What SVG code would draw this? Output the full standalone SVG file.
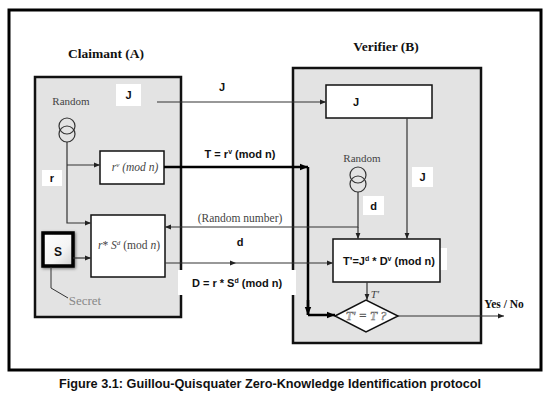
<svg xmlns="http://www.w3.org/2000/svg" width="548" height="400" viewBox="0 0 548 400">
<defs>
<style>
.title{font-family:"Liberation Serif",serif;font-weight:bold;font-size:13.5px;fill:#111;text-anchor:middle}
.serif{font-family:"Liberation Serif",serif;font-size:11px;fill:#444;text-anchor:middle}
.it{font-family:"Liberation Serif",serif;font-style:italic;font-size:11.5px;fill:#444;text-anchor:middle}
.sans{font-family:"Liberation Sans",Arial,sans-serif;font-weight:bold;font-size:11px;fill:#111;text-anchor:middle}
.lbl{fill:#fff;stroke:none}
.box{fill:#fff;stroke:#111;stroke-width:1.5}
.area{fill:#e3e3e3;stroke:#111;stroke-width:2.5}
.ln{fill:none;stroke:#333;stroke-width:1.2}
.thick{fill:none;stroke:#000;stroke-width:2.5}
</style>
<marker id="ah" viewBox="0 0 10 10" refX="10" refY="5" markerWidth="8" markerHeight="6" orient="auto" markerUnits="userSpaceOnUse"><path d="M0,1 L10,5 L0,9 z" fill="#222"/></marker>
<marker id="ahT" viewBox="0 0 10 10" refX="10" refY="5" markerWidth="9" markerHeight="8" orient="auto" markerUnits="userSpaceOnUse"><path d="M0,1 L10,5 L0,9 z" fill="#000"/></marker>
<linearGradient id="sg" x1="0" y1="0" x2="1" y2="1"><stop offset="0" stop-color="#fff"/><stop offset="0.6" stop-color="#f4f4f4"/><stop offset="1" stop-color="#cfcfcf"/></linearGradient>
<filter id="sh" x="-30%" y="-30%" width="160%" height="160%"><feGaussianBlur in="SourceAlpha" stdDeviation="1.5"/><feOffset dx="1" dy="1"/><feComponentTransfer><feFuncA type="linear" slope="0.5"/></feComponentTransfer><feMerge><feMergeNode/><feMergeNode in="SourceGraphic"/></feMerge></filter>
</defs>
<rect x="0" y="0" width="548" height="400" fill="#fff"/>
<g id="frame"><rect x="9" y="10" width="532" height="360" fill="none" stroke="#000" stroke-width="3"/></g>

<g id="claimant">
<rect class="area" x="35" y="77" width="146" height="240"/>
<text class="title" x="106" y="58">Claimant (A)</text>
</g>
<g id="verifier">
<rect class="area" x="293" y="68" width="188" height="275"/>
<text class="title" x="386" y="51">Verifier (B)</text>
</g>

<g id="random-a">
<text class="serif" x="71" y="105">Random</text>
<circle cx="67" cy="126" r="8" fill="none" stroke="#333" stroke-width="1.2"/>
<circle cx="67" cy="134" r="8" fill="none" stroke="#333" stroke-width="1.2"/>
</g>
<g id="j-a"><rect class="lbl" x="116" y="84" width="25" height="22"/><text class="sans" x="128.5" y="99">J</text></g>
<g id="r-label"><rect class="lbl" x="42" y="170" width="20" height="16"/><text class="sans" x="52" y="182">r</text></g>
<g id="rv-box"><rect class="box" x="100" y="151" width="64" height="33"/><text class="it" x="135" y="171">r<tspan dy="-4" font-size="7">v</tspan><tspan dy="4">  (mod n)</tspan></text></g>
<g id="rs-box"><rect class="box" x="91" y="215" width="74" height="62"/><text class="serif" x="129" y="249" style="font-size:11.5px"><tspan font-style="italic">r</tspan>* <tspan font-style="italic">S</tspan><tspan dy="-4" font-size="7" font-style="italic">d</tspan><tspan dy="4"> (mod </tspan><tspan font-style="italic">n</tspan>)</text></g>
<g id="secret">
<rect x="43" y="233" width="30" height="33" fill="url(#sg)" stroke="#000" stroke-width="3.5" filter="url(#sh)"/>
<text class="sans" x="58" y="256" style="font-size:12px">S</text>
<text class="serif" x="85" y="305" style="font-size:13px;fill:#888">Secret</text>
</g>

<g id="j-box"><rect class="box" x="326" y="85" width="106" height="33"/><text class="sans" x="356" y="106">J</text></g>
<g id="random-b">
<text class="serif" x="362" y="162">Random</text>
<circle cx="358" cy="175" r="8" fill="none" stroke="#333" stroke-width="1.2"/>
<circle cx="358" cy="184" r="8" fill="none" stroke="#333" stroke-width="1.2"/>
</g>
<g id="d-b"><rect class="lbl" x="363" y="196" width="21" height="19"/><text class="sans" x="373.5" y="210">d</text></g>
<g id="j-b"><rect class="lbl" x="412" y="167" width="21" height="20"/><text class="sans" x="422.5" y="181">J</text></g>
<g id="tp-box"><rect class="lbl" x="438" y="248" width="9" height="22"/><rect class="box" x="333" y="239" width="107" height="43"/><text class="sans" x="389" y="265">T'=J<tspan dy="-4" font-size="7">d</tspan><tspan dy="4"> * D</tspan><tspan dy="-4" font-size="7">v</tspan><tspan dy="4"> (mod n)</tspan></text></g>
<g id="diamond"><path d="M335,316 L366,300 L398,316 L366,332 Z" fill="#fff" stroke="#111" stroke-width="1.5"/><text class="it" x="366" y="320" style="font-size:12.5px;fill:#fff;stroke:#555;stroke-width:0.5">T' = T ?</text></g>

<g id="connectors">
<path class="ln" d="M157,102 H326" marker-end="url(#ah)"/>
<path class="ln" d="M67,142 V223 H91" marker-end="url(#ah)"/>
<path class="ln" d="M67,165 H100" marker-end="url(#ah)"/>
<path class="ln" d="M73,258 H91" marker-end="url(#ah)"/>
<path d="M51,267 V288 L68,298" fill="none" stroke="#333" stroke-width="1"/>
<path class="thick" d="M164,167 H308" marker-end="url(#ahT)"/>
<path class="thick" d="M308,167 V315"/>
<path class="thick" d="M308,300 V315" marker-end="url(#ahT)"/>
<path class="thick" d="M308,315 H335" marker-end="url(#ahT)"/>
<path class="ln" d="M358,192 V227 H165" marker-end="url(#ah)"/>
<path class="ln" d="M358,227 V239" marker-end="url(#ah)"/>
<path class="ln" d="M407,118 V239" marker-end="url(#ah)"/>
<path class="ln" d="M165,263 H236" marker-end="url(#ah)"/>
<path class="ln" d="M236,263 H333" marker-end="url(#ah)"/>
<path class="ln" d="M367,282 V300" marker-end="url(#ah)"/>
<path class="ln" d="M398,316 H504" marker-end="url(#ah)"/>
</g>

<g id="labels">
<text class="sans" x="222" y="91">J</text>
<text class="sans" x="240" y="158">T = r<tspan dy="-4" font-size="7">v</tspan><tspan dy="4"> (mod n)</tspan></text>
<text class="serif" x="240" y="222" style="font-size:11.5px">(Random number)</text>
<text class="sans" x="240" y="246">d</text>
<rect class="lbl" x="178" y="270" width="118" height="25"/>
<text class="sans" x="237" y="287">D = r * S<tspan dy="-4" font-size="7">d</tspan><tspan dy="4"> (mod n)</tspan></text>
<text class="it" x="375" y="298" style="font-size:11px">T'</text>
<text class="title" x="504" y="308" style="font-size:11.5px">Yes / No</text>
</g>
<text class="sans" x="270" y="388" style="font-size:12.7px">Figure 3.1: Guillou-Quisquater Zero-Knowledge Identification protocol</text>
</svg>
